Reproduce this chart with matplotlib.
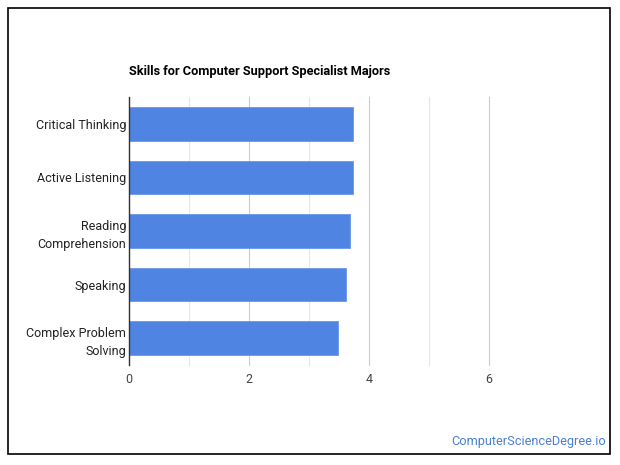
import matplotlib
matplotlib.use('Agg')
import matplotlib.pyplot as plt
from matplotlib.patches import Rectangle

skills = ['Critical Thinking', 'Active Listening', 'Reading\nComprehension',
          'Speaking', 'Complex Problem\nSolving']
scores = [3.74, 3.74, 3.68, 3.62, 3.49]
x_ticks = [0, 2, 4, 6]
title = 'Skills for Computer Support Specialist Majors'
source = 'ComputerScienceDegree.io'

plt.rcParams['font.family'] = ['Roboto', 'DejaVu Sans']

fig = plt.figure(figsize=(6.2, 4.65), dpi=100)
fig.patch.set_facecolor('white')

# outer frame
fig.add_artist(Rectangle((8 / 620, 1 - 454 / 465), 602 / 620, 446 / 465,
                         transform=fig.transFigure, fill=False,
                         edgecolor='black', linewidth=1.2))

ax = fig.add_axes([129 / 620, 1 - 365 / 465, 360 / 620, 268 / 465])
ypos = list(range(len(skills)))[::-1]
ax.barh(ypos, scores, height=0.63, color='#4F84E2', edgecolor='#6A97E8',
        linewidth=0.6, zorder=3)

ax.set_xlim(0, 6)
ax.set_ylim(-0.5, len(skills) - 0.5)
ax.set_xticks(x_ticks)
ax.set_xticklabels([str(t) for t in x_ticks], fontsize=9, color='#444444')
ax.set_xticks([1, 3, 5], minor=True)
ax.set_yticks(ypos)
ax.set_yticklabels(skills, fontsize=9, color='#222222', linespacing=1.5)
ax.tick_params(axis='both', which='both', length=0)
ax.tick_params(axis='x', pad=6)
ax.tick_params(axis='y', pad=2)

ax.grid(axis='x', which='major', color='#cccccc', linewidth=0.8, zorder=0)
ax.grid(axis='x', which='minor', color='#e6e6e6', linewidth=0.8, zorder=0)
# keep the last gridline (at the right edge) from being clipped
for line in ax.get_xgridlines() + ax.xaxis.get_minorticklines():
    line.set_clip_on(False)
for tick in ax.xaxis.get_major_ticks() + ax.xaxis.get_minor_ticks():
    tick.gridline.set_clip_on(False)
for side in ['top', 'right', 'bottom']:
    ax.spines[side].set_visible(False)
ax.spines['left'].set_color('#333333')
ax.spines['left'].set_linewidth(1.0)
ax.spines['left'].set_zorder(4)

fig.text(129 / 620, 1 - 71 / 465, title, fontsize=9.2, fontweight='bold',
         color='black', ha='left', va='center')
fig.text(606 / 620, 1 - 441 / 465, source, fontsize=9.2, color='#4A7FD4',
         ha='right', va='center')

fig.savefig('out.png', dpi=100)
